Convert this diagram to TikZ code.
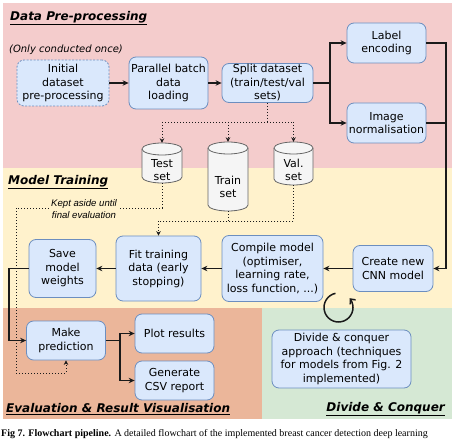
\documentclass[tikz,border=0pt]{standalone}
\usepackage{fontspec}
\setmainfont{DejaVu Sans}
\newfontfamily\capfont{Liberation Serif}
\newfontfamily\keptfont{Liberation Sans}
\usetikzlibrary{arrows.meta,calc}
\definecolor{pinkbg}{HTML}{F4CCCC}
\definecolor{yellowbg}{HTML}{FFF2CC}
\definecolor{orangebg}{HTML}{EBB69A}
\definecolor{greenbg}{HTML}{D5E8D4}
\definecolor{boxfill}{HTML}{DAE8FC}
\definecolor{boxdraw}{HTML}{6C8EBF}
\definecolor{cylfill}{HTML}{F5F5F5}
\definecolor{cyldraw}{HTML}{666666}
\definecolor{edgecol}{HTML}{1A1A1A}
\newcommand{\mycyl}[4]{%
  \draw[cylst] (#1,#2+6) -- (#1,#4-6) arc[start angle=180,end angle=0,x radius={(#3-#1)/2},y radius=6] -- (#3,#2+6) arc[start angle=0,end angle=-180,x radius={(#3-#1)/2},y radius=6] -- cycle;
  \draw[cylst] (#1,#2+6) arc[start angle=180,end angle=0,x radius={(#3-#1)/2},y radius=6];}
\begin{document}
\begin{tikzpicture}[x=1bp,y=-1bp,
  box/.style={draw=boxdraw, fill=boxfill, rounded corners=7bp, line width=0.8bp, align=center, inner sep=0pt, font=\fontsize{11bp}{13.5bp}\selectfont},
  cylst/.style={draw=cyldraw, fill=cylfill, line width=0.8bp},
  cylholder/.style={inner sep=0pt, minimum width=40bp},
  cyltext/.style={inner sep=0pt, align=center, font=\fontsize{11bp}{13.5bp}\selectfont},
  flow/.style={draw=edgecol, line width=1.2bp, -{Stealth[length=6bp,width=5.5bp]}},
  flowline/.style={draw=edgecol, line width=1.2bp},
  dot/.style={draw=edgecol, line width=0.9bp, dash pattern=on 1.2bp off 1.8bp, -{Stealth[length=4.5bp,width=4.5bp]}},
  dotline/.style={draw=edgecol, line width=0.9bp, dash pattern=on 1.2bp off 1.8bp},
  title/.style={font=\fontsize{12bp}{14bp}\selectfont\bfseries\itshape, inner sep=0pt}
]
\useasboundingbox (0,0) rectangle (474,440);
\fill[white] (0,0) rectangle (474,440);
% backgrounds
\fill[pinkbg] (3,3) rectangle (452,168);
\fill[yellowbg] (3,168) rectangle (452,308);
\fill[orangebg] (3,308) rectangle (262,419);
\fill[greenbg] (262,308) rectangle (452,419);
% titles
\node[title, anchor=west] (t1) at (10,18) {\underline{Data Pre-processing}};
\node[title, anchor=west] (t2) at (8,182) {\underline{Model Training}};
\node[title, anchor=west] (t3) at (6,409) {\underline{Evaluation \& Result Visualisation}};
\node[title, anchor=east] (t4) at (445,409) {\underline{Divide \& Conquer}};
% data pre-processing
\node[font=\fontsize{10bp}{12bp}\selectfont\itshape, inner sep=0pt] (once) at (66,50) {(Only conducted once)};
\node[box, dash pattern=on 2bp off 1.5bp, minimum width=92bp, minimum height=46bp] (init) at (63,83) {Initial\\dataset\\pre-processing};
\node[box, minimum width=79bp, minimum height=52bp] (par) at (168.5,83) {Parallel batch\\data\\loading};
\node[box, minimum width=91bp, minimum height=39bp] (split) at (267.5,83) {Split dataset\\(train/test/val\\sets)};
\node[box, minimum width=79bp, minimum height=40bp] (label) at (386.5,43) {Label\\encoding};
\node[box, minimum width=79bp, minimum height=40bp] (img) at (386.5,123) {Image\\normalisation};
% cylinders
\mycyl{142}{143}{182}{183}
\mycyl{208}{142}{248}{211}
\mycyl{274}{142}{313}{185}
\node[cylholder, minimum height=40bp] (test) at (162,163) {};
\node[cylholder, minimum height=69bp] (train) at (228,176.5) {};
\node[cylholder, minimum height=43bp] (val) at (293.5,163.5) {};
\node[cyltext] (testt) at (162,170) {Test\\set};
\node[cyltext] (traint) at (228,187) {Train\\set};
\node[cyltext] (valt) at (293.5,170) {Val.\\set};
% model training
\node[box, minimum width=80bp, minimum height=46bp] (create) at (393,268.5) {Create new\\CNN model};
\node[box, minimum width=101bp, minimum height=66bp] (compile) at (272.5,268.5) {Compile model\\(optimiser,\\learning rate,\\loss function, ...)};
\node[box, minimum width=85bp, minimum height=65bp] (fit) at (158.5,268.5) {Fit training\\data (early\\stopping)};
\node[box, minimum width=67bp, minimum height=58bp] (save) at (62.5,268.5) {Save\\model\\weights};
% evaluation
\node[box, minimum width=79bp, minimum height=39bp] (make) at (66,340.5) {Make\\prediction};
\node[box, minimum width=79bp, minimum height=39bp] (plot) at (174.5,333.5) {Plot results};
\node[box, minimum width=79bp, minimum height=39bp] (csv) at (174.5,380.5) {Generate\\CSV report};
% divide & conquer
\node[box, minimum width=139bp, minimum height=58bp] (dc) at (341.5,359) {Divide \& conquer\\approach (techniques\\for models from Fig. 2\\implemented)};
% solid connectors
\draw[flow] (init.east) -- (par.west);
\draw[flow] (par.east) -- (split.west);
\coordinate (j1) at (330,83);
\draw[flowline] (split.east) -- (j1);
\draw[flow] (j1) |- (label.west);
\draw[flow] (j1) |- (img.west);
\coordinate (j2) at (446,43);
\coordinate (j3) at (446,268.5);
\draw[flow] (label.east) -- (j2) -- (j3) -- (create.east);
\draw[flowline] (img.east) -- (img.east -| j2);
\draw[flow] (create.west) -- (compile.east);
\draw[flow] (compile.west) -- (fit.east);
\draw[flow] (fit.west) -- (save.east);
\coordinate (j4) at (9,268.5);
\coordinate (j5) at (9,340.5);
\draw[flow] (save.west) -- (j4) -- (j5) -- (make.west);
\coordinate (j6) at (120,340.5);
\draw[flowline] (make.east) -- (j6);
\draw[flow] (j6) |- (plot.west);
\draw[flow] (j6) |- (csv.west);
% dotted connectors
\coordinate (d1) at (267.5,122);
\draw[dotline] (split.south) -- (d1);
\draw[dotline] (test.north |- d1) -- (val.north |- d1);
\draw[dot] (test.north |- d1) -- (test.north);
\draw[dot] (train.north |- d1) -- (train.north);
\draw[dot] (val.north |- d1) -- (val.north);
\coordinate (k1) at (162,208);
\coordinate (k2) at (16,208);
\coordinate (k3) at (16,373);
\coordinate (k4) at (66,373);
\draw[dot] (test.south) -- (k1) -- (k2) -- (k3) -- (k4) -- (make.south);
\node[font=\keptfont\itshape\fontsize{9.6bp}{12.5bp}\selectfont, fill=yellowbg, inner sep=1bp, align=center] (kept) at (84,209) {Kept aside until\\final evaluation};
\coordinate (m1) at (228,221);
\coordinate (m2) at (293.5,221);
\coordinate (m3) at (158.5,221);
\draw[dotline] (train.south) -- (m1);
\draw[dotline] (val.south) -- (m2) -- (m3);
\draw[dot] (m3) -- (fit.north);
% cycle arrow
\coordinate (cc) at (338.5,307.5);
\draw[edgecol, line width=1.5bp, -{Straight Barb[length=4bp,width=7bp]}] (cc) ++(-102:14.5) arc[start angle=-102, end angle=-400, radius=14.5];
% caption
\node[anchor=base west, inner sep=0pt, font=\capfont\fontsize{10bp}{12bp}\selectfont] (cap) at (1,436.5) {\textbf{Fig 7. Flowchart pipeline.} A detailed flowchart of the implemented breast cancer detection deep learning};
\end{tikzpicture}
\end{document}
